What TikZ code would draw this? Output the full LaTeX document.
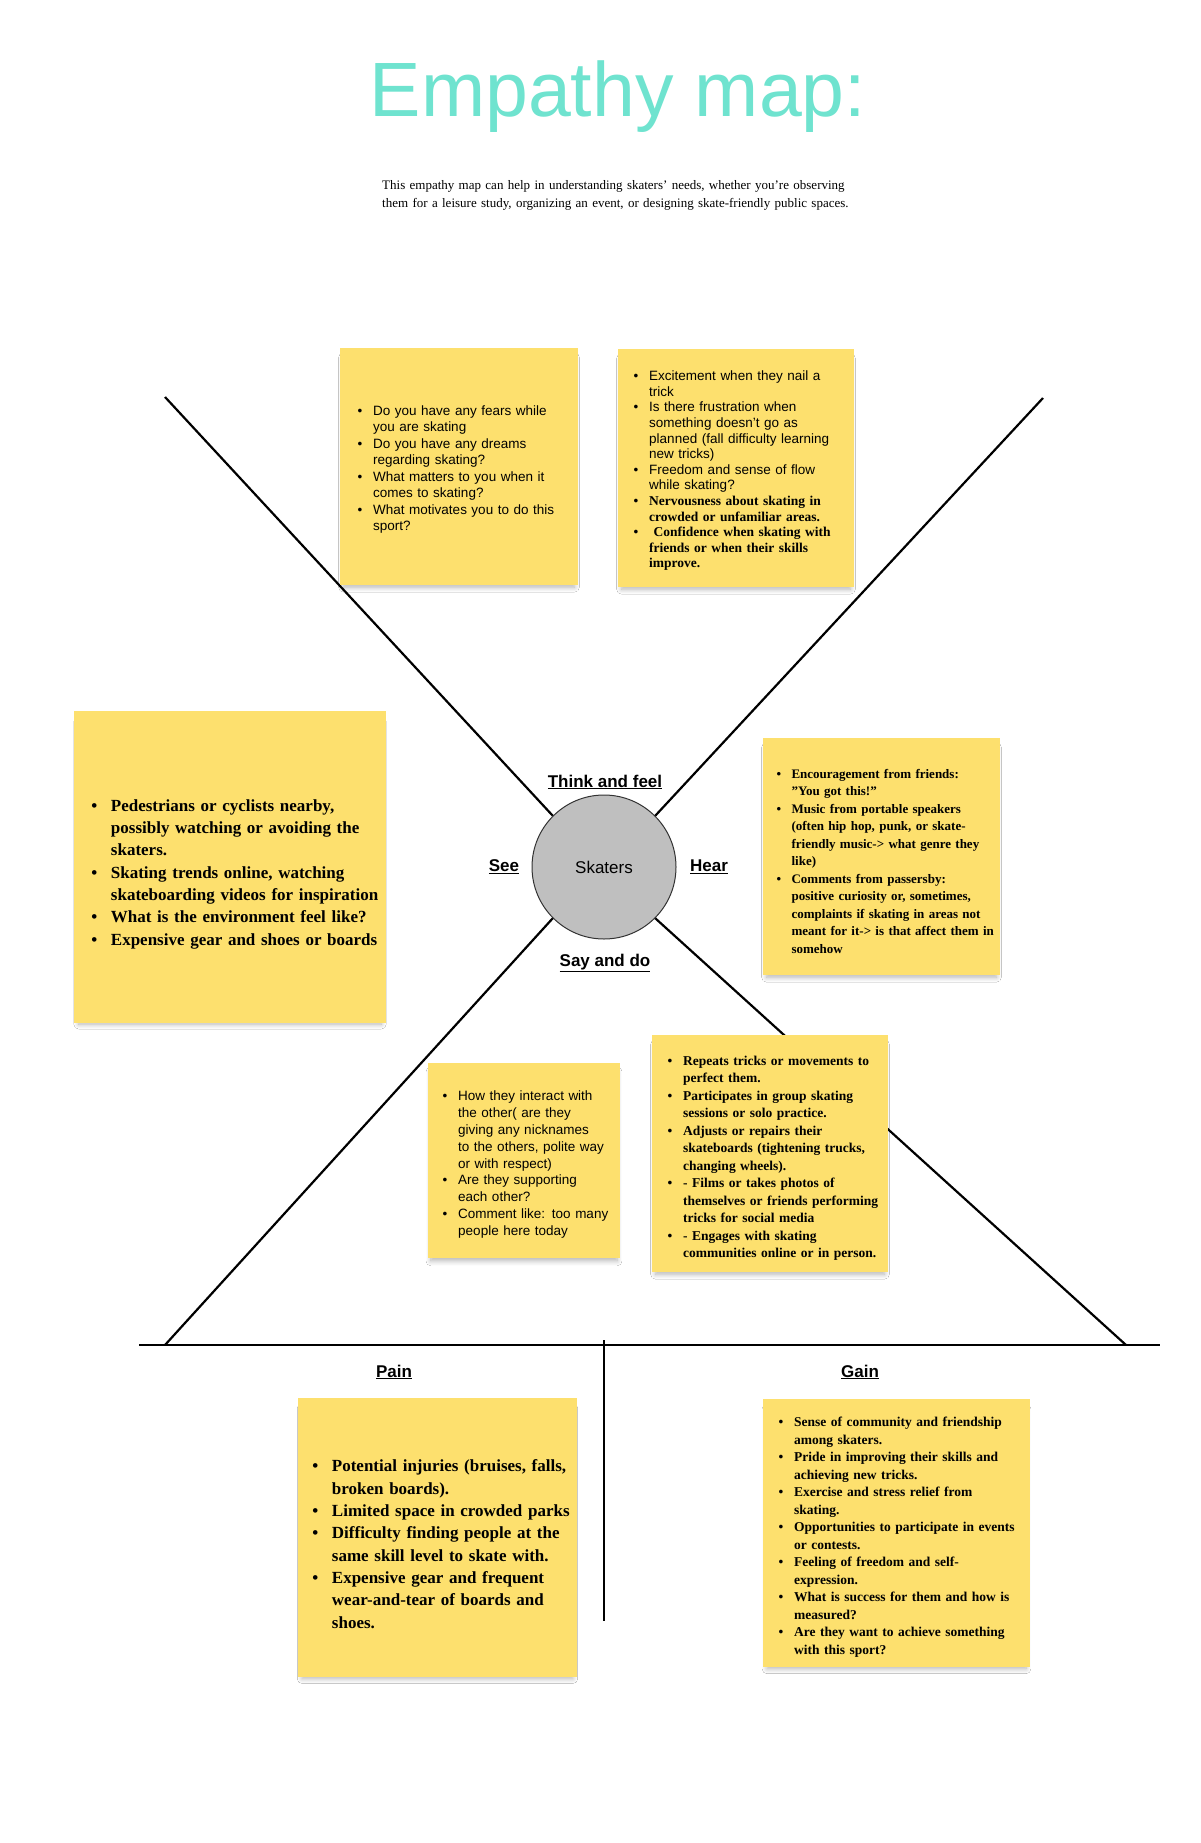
\documentclass[tikz,border=0pt]{standalone}
\usepackage{fontspec}
\setmainfont{Liberation Serif}
\setsansfont{Liberation Sans}
\usetikzlibrary{shadows.blur}
\definecolor{sticky}{HTML}{FDE06E}
\definecolor{teal}{HTML}{6FE3CF}
\newcommand{\bl}[1]{\par\noindent\hangindent=1.35em\hangafter=1\hbox to 1.35em{\hspace{0.2em}\textbullet\hfil}#1\par}
\newcommand{\sq}{\symbol{"22}}
\tikzset{
 note/.style={fill=sticky,draw=none,blur shadow={shadow xshift=0pt,shadow yshift=-6pt,shadow scale=0.97,shadow blur radius=5pt,shadow blur steps=10,shadow opacity=30}},
 txt/.style={text width=#1,align=left,anchor=center,inner sep=0pt,execute at begin node={\hyphenpenalty=10000\exhyphenpenalty=0}},
 lab/.style={font=\sffamily\bfseries\fontsize{17}{20}\selectfont},
 ln/.style={line width=2.2pt,black}
}
\begin{document}
\begin{tikzpicture}[x=1pt,y=-1pt]
\useasboundingbox (0,0) rectangle (1200,1843);
\fill[white] (0,0) rectangle (1200,1843);
\node[text=teal,font=\sffamily\fontsize{77}{85}\selectfont] (title) at (618,97) {Empathy map:};
\node[txt=468pt,anchor=north west,font=\rmfamily\fontsize{13}{18}\selectfont] (sub) at (382,180) {This empathy map can help in understanding skaters' needs, whether you're observing them for a leisure study, organizing an event, or designing skate-friendly public spaces.};
% lines
\node[circle,draw=black!80,line width=1pt,fill=black!25,minimum width=144pt,minimum height=140pt,inner sep=0pt,font=\sffamily\fontsize{17}{20}\selectfont] (c) at (604,867) {Skaters};
\coordinate (tl) at (165,397); \coordinate (tr) at (1043,398);
\coordinate (bl) at (165,1345); \coordinate (br) at (1126,1345);
\coordinate (hl) at (139,1345); \coordinate (hr) at (1160,1345);
\coordinate (vt) at (604,1340); \coordinate (vb) at (604,1621);
\draw[ln] (tl) -- (c.135); \draw[ln] (tr) -- (c.45);
\draw[ln] (bl) -- (c.225); \draw[ln] (br) -- (c.-45);
\draw[ln] (hl) -- (hr); \draw[ln] (vt) -- (vb);
\node[lab] (tf) at (605,782) {\underline{Think and feel}};
\node[lab] (see) at (504,867) {\underline{See}};
\node[lab] (hear) at (709,867) {\underline{Hear}};
\node[lab] (sd) at (605,963) {\underline{Say and do}};
\node[lab] (pain) at (394,1372) {\underline{Pain}};
\node[lab] (gain) at (860,1372) {\underline{Gain}};
% notes
\fill[note] (340,348) rectangle (578,585);
\node[txt=212pt,font=\sffamily\fontsize{13.5}{16.5}\selectfont] (n1) at (461,466) {%
\bl{Do you have any fears while you are skating}\bl{Do you have any dreams regarding skating?}\bl{What matters to you when it comes to skating?}\bl{What motivates you to do this sport?}};
\fill[note] (618,349) rectangle (854,587);
\node[txt=214pt,font=\sffamily\fontsize{13.5}{15.6}\selectfont] (n2) at (738,468) {%
\bl{Excitement when they nail a trick}\bl{Is there frustration when something doesn't go as planned (fall difficulty learning new tricks)}\bl{Freedom and sense of flow while skating?}{\rmfamily\bfseries\fontsize{13.5}{15.6}\selectfont\bl{Nervousness about skating in crowded or unfamiliar areas.}\bl{ Confidence when skating with friends or when their skills improve.}}};
\fill[note] (74,711) rectangle (386,1023);
\node[txt=292pt,font=\rmfamily\bfseries\fontsize{17}{22.3}\selectfont] (n3) at (234,869) {%
\bl{Pedestrians or cyclists nearby, possibly watching or avoiding the skaters.}\bl{Skating trends online, watching skateboarding videos for inspiration}\bl{What is the environment feel like?}\bl{Expensive gear and shoes or boards}};
\fill[note] (763,738) rectangle (1000,975);
\node[txt=220pt,font=\rmfamily\bfseries\fontsize{13}{17.5}\selectfont] (n4) at (884,857) {%
\bl{Encouragement from friends:\newline \sq You got this!\sq}\bl{Music from portable speakers (often hip hop, punk, or skate-friendly music-> what genre they like)}\bl{Comments from passersby: positive curiosity or, sometimes, complaints if skating in areas not meant for it-> is that affect them in somehow}};
\fill[note] (428,1063) rectangle (620,1258);
\node[txt=170pt,font=\sffamily\fontsize{13.5}{16.8}\selectfont] (n5) at (525,1161) {%
\bl{How they interact with the other( are they giving any nicknames to the others, polite way or with respect)}\bl{Are they supporting each other?}\bl{Comment like: too many people here today}};
\fill[note] (652,1035) rectangle (888,1272);
\node[txt=214pt,font=\rmfamily\bfseries\fontsize{13.5}{17.5}\selectfont] (n6) at (772,1154) {%
\bl{Repeats tricks or movements to perfect them.}\bl{Participates in group skating sessions or solo practice.}\bl{Adjusts or repairs their skateboards (tightening trucks, changing wheels).}\bl{- Films or takes photos of themselves or friends performing tricks for social media}\bl{- Engages with skating communities online or in person.}};
\fill[note] (298,1398) rectangle (577,1677);
\node[txt=266pt,font=\rmfamily\bfseries\fontsize{17}{22.3}\selectfont] (n7) at (442,1539) {%
\bl{Potential injuries (bruises, falls, broken boards).}\bl{Limited space in crowded parks}\bl{Difficulty finding people at the same skill level to skate with.}\bl{Expensive gear and frequent wear-and-tear of boards and shoes.}};
\fill[note] (763,1399) rectangle (1030,1667);
\node[txt=244pt,font=\rmfamily\bfseries\fontsize{13.5}{17.5}\selectfont] (n8) at (898,1533) {%
\bl{Sense of community and friendship among skaters.}\bl{Pride in improving their skills and achieving new tricks.}\bl{Exercise and stress relief from skating.}\bl{Opportunities to participate in events or contests.}\bl{Feeling of freedom and self-expression.}\bl{What is success for them and how is measured?}\bl{Are they want to achieve something with this sport?}};
\end{tikzpicture}
\end{document}
